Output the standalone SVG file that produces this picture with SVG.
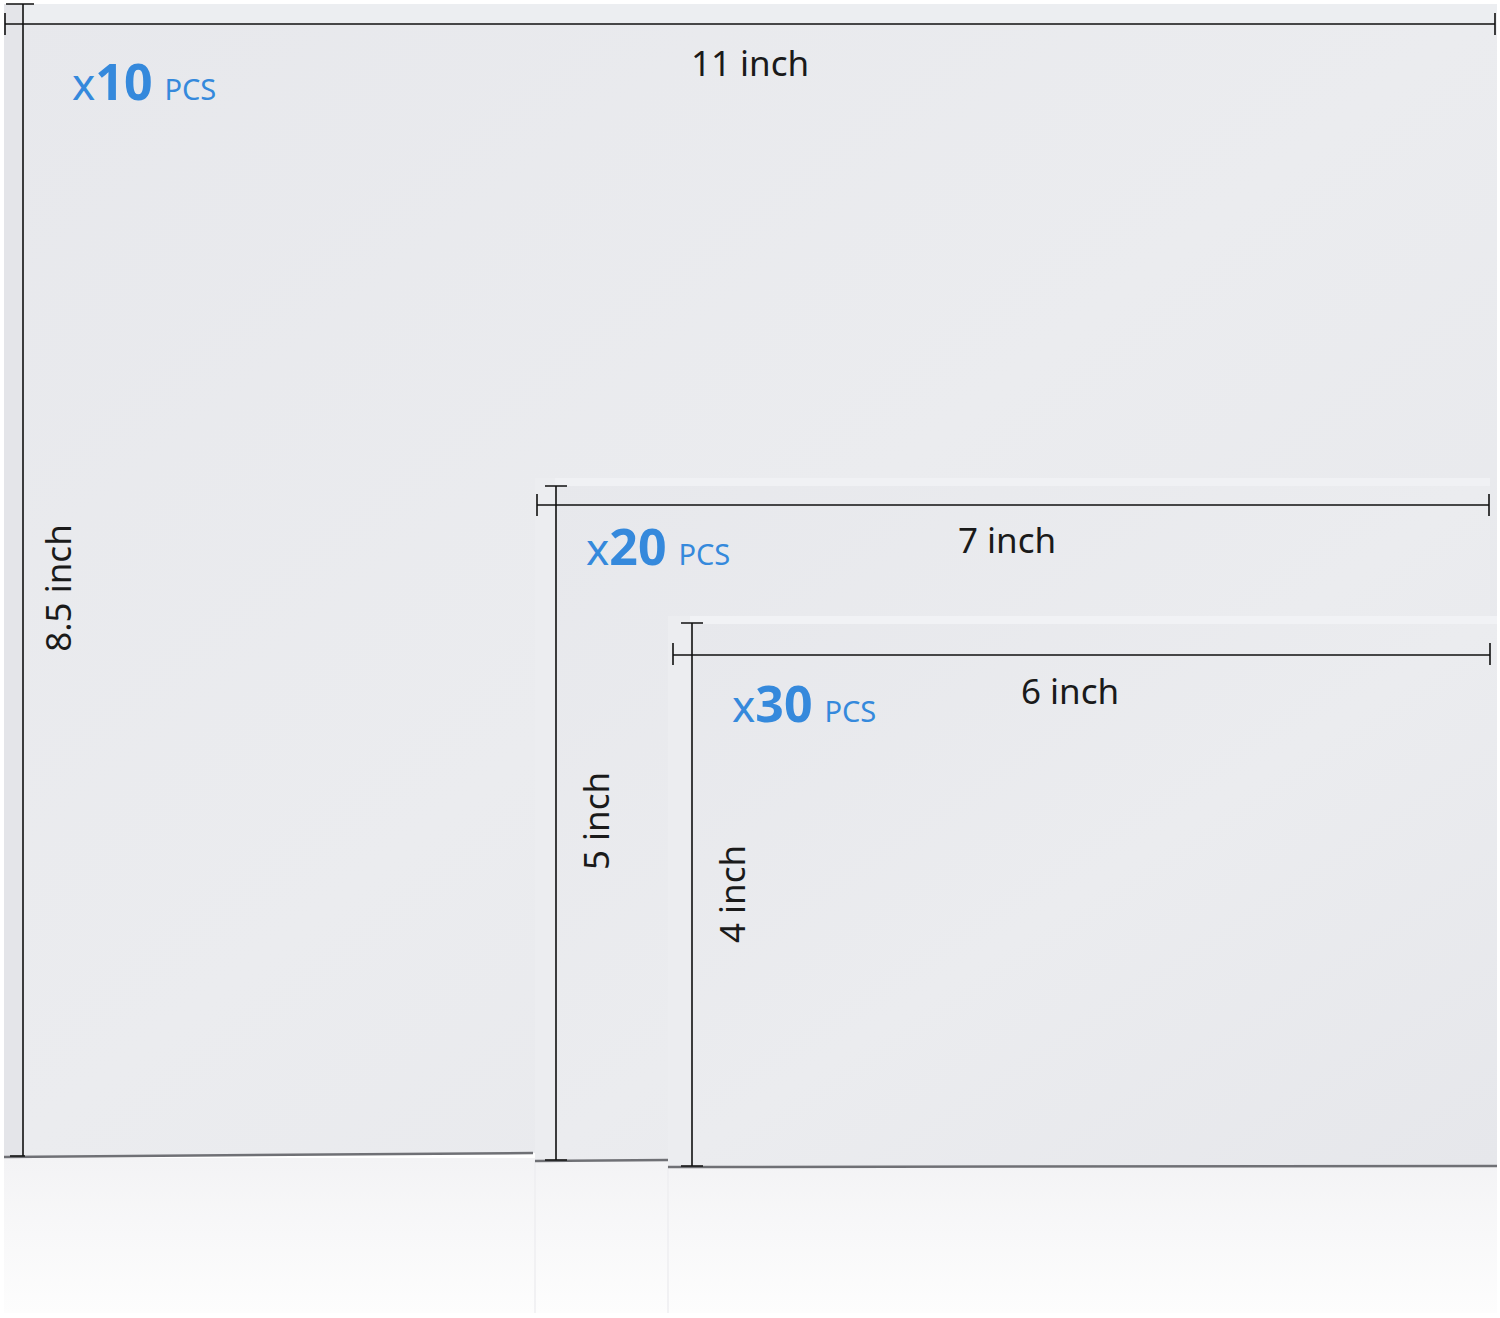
<svg xmlns="http://www.w3.org/2000/svg" width="1500" height="1318" viewBox="0 0 1500 1318">
<defs>
<linearGradient id="face" x1="0" y1="0" x2="1" y2="1">
<stop offset="0" stop-color="#e7e8ec"/>
<stop offset="0.5" stop-color="#ebecef"/>
<stop offset="1" stop-color="#e6e7eb"/>
</linearGradient>
<linearGradient id="refl" x1="0" y1="0" x2="0" y2="1">
<stop offset="0" stop-color="#f3f3f5"/>
<stop offset="1" stop-color="#fdfdfd"/>
</linearGradient>
<style>
.dim{stroke:#111;stroke-width:1.6;fill:none}
.edge{stroke:#6f7075;stroke-width:2.5;fill:none}
.lbl{font-family:"Noto Sans","Open Sans",sans-serif;font-size:35px;fill:#1a1a1a}
.qty{font-family:"Noto Sans","Open Sans",sans-serif;fill:#3589dc}
.qx{font-size:44px}
.qn{font-size:50px;font-weight:700}
.qp{font-size:29px}
</style>
</defs>
<rect width="1500" height="1318" fill="#ffffff"/>
<rect x="4" y="1158" width="1493" height="155" fill="url(#refl)"/>
<line x1="535" y1="1160" x2="535" y2="1313" stroke="#eeeef0" stroke-width="1.5"/>
<line x1="668" y1="1166" x2="668" y2="1313" stroke="#eeeef0" stroke-width="1.5"/>

<g id="panel-large">
<polygon points="4,4 1497,4 1497,1150 533,1153 4,1157" fill="url(#face)"/>
<rect x="4" y="4" width="1493" height="20" fill="#eceef1"/>
<rect x="4" y="4" width="18" height="1153" fill="#e4e5e9"/>
<polyline class="edge" points="4,1157 533,1153"/>
<text class="lbl" x="750" y="76" text-anchor="middle">11 inch</text>
<text class="qty" x="72" y="100"><tspan class="qx">x</tspan><tspan class="qn">10</tspan><tspan class="qp" dx="12">PCS</tspan></text>
<text class="lbl" transform="translate(71,588) rotate(-90)" text-anchor="middle">8.5 inch</text>
</g>

<g id="panel-medium">
<rect x="535" y="478" width="955" height="683" fill="url(#face)"/>
<rect x="535" y="478" width="955" height="8" fill="#f0f1f4"/>
<rect x="535" y="478" width="20" height="683" fill="#ecedf0"/>
<line class="edge" x1="535" y1="1161" x2="668" y2="1160"/>
<text class="lbl" x="1007" y="553" text-anchor="middle">7 inch</text>
<text class="qty" x="586" y="565"><tspan class="qx">x</tspan><tspan class="qn">20</tspan><tspan class="qp" dx="12">PCS</tspan></text>
<text class="lbl" transform="translate(609,821) rotate(-90)" text-anchor="middle">5 inch</text>
</g>

<g id="panel-small">
<rect x="668" y="616" width="829" height="551" fill="url(#face)"/>
<rect x="668" y="616" width="829" height="8" fill="#f1f2f5"/>
<rect x="668" y="616" width="22" height="551" fill="#ecedf0"/>
<line class="edge" x1="668" y1="1167" x2="1497" y2="1166"/>
<text class="lbl" x="1070" y="704" text-anchor="middle">6 inch</text>
<text class="qty" x="732" y="722"><tspan class="qx">x</tspan><tspan class="qn">30</tspan><tspan class="qp" dx="12">PCS</tspan></text>
<text class="lbl" transform="translate(745,894) rotate(-90)" text-anchor="middle">4 inch</text>
</g>

<g id="connectors">
<path class="dim" d="M5,24 H1495 M5,13 V35 M1495,13 V35"/>
<path class="dim" d="M23,4 V1156 M6,4 H34 M10,1156 H25"/>
<path class="dim" d="M537,505 H1489 M537,494 V516 M1489,494 V516"/>
<path class="dim" d="M556,486 V1160 M545,486 H567 M545,1160 H567"/>
<path class="dim" d="M673,655 H1490 M673,643 V665 M1490,643 V665"/>
<path class="dim" d="M692,623 V1166 M681,623 H703 M681,1166 H703"/>
</g>
</svg>
